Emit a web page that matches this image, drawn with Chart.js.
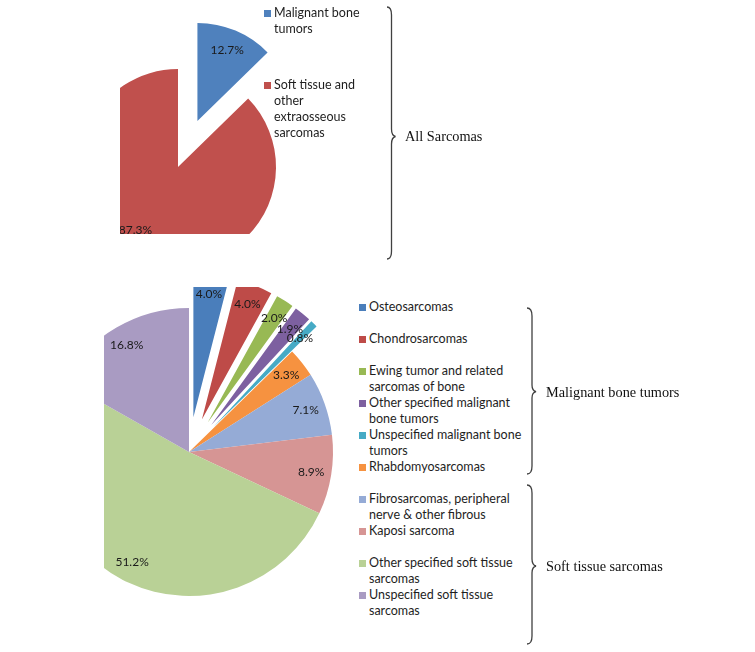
<!DOCTYPE html>
<html>
<head>
<meta charset="utf-8">
<title>Sarcomas</title>
<script src="https://cdn.jsdelivr.net/npm/chart.js@4.4.1/dist/chart.umd.min.js"></script>
<style>
    html, body { margin: 0; padding: 0; background: #fff; }
    #page { position: relative; width: 755px; height: 652px; overflow: hidden; }
    .clip { position: absolute; overflow: hidden; }
    .clip canvas { position: absolute; }
    .legend { position: absolute; font: 12.5px Lato, sans-serif; color: #1e1e1e; }
    .legend .item { position: relative; padding-left: 10px; line-height: 16px; white-space: nowrap; }
    .legend .box { position: absolute; left: 0; top: 4.5px; width: 7px; height: 7px; }
    .group { position: absolute; font: 14.3px "Liberation Serif", serif; line-height: 16px; color: #111; white-space: nowrap; }
    #braces { position: absolute; left: 0; top: 0; }
</style>
</head>
<body>
<div id="page">
    <div class="clip" style="left:120px; top:0; width:160px; height:234px;">
        <canvas id="allChart" width="300" height="300" style="left:-92px; top:17px;"></canvas>
    </div>
    <div id="allLegend" class="legend" style="left:264px; top:5px;"></div>

    <div class="clip" style="left:104px; top:287px; width:250px; height:365px;">
        <canvas id="subChart" width="340" height="340" style="left:-85px; top:-5px;"></canvas>
    </div>
    <div id="subLegend" class="legend" style="left:359px; top:299px;"></div>

    <svg id="braces" width="755" height="652">
        <g fill="none" stroke="#404040" stroke-width="1.3">
            <path d="M387 7 Q391.5 7 391.5 15 L391.5 129 Q391.5 135.5 395.5 136.5 Q391.5 137.5 391.5 144 L391.5 251 Q391.5 259 387 259"/>
            <path d="M527 308 Q532 308 532 316 L532 385 Q532 390.7 536 391.7 Q532 392.7 532 398 L532 466 Q532 474 527 474"/>
            <path d="M527 485 Q532 485 532 493 L532 559 Q532 565 536 566 Q532 567 532 573 L532 636 Q532 644 527 644"/>
        </g>
    </svg>
    <div id="g0" class="group" style="left:405px; top:128px;"></div>
    <div id="g1" class="group" style="left:546px; top:384px;"></div>
    <div id="g2" class="group" style="left:546px; top:558px;"></div>
</div>

<script>
    // All sarcomas
    const allLabels = [
        ['Malignant bone', 'tumors'],
        ['Soft tissue and', 'other', 'extraosseous', 'sarcomas']
    ];
    const allValues = [12.7, 87.3];
    const allColors = ['#4F81BD', '#C0504D'];

    // Breakdown by type
    const subLabels = [
        ['Osteosarcomas'],
        ['Chondrosarcomas'],
        ['Ewing tumor and related', 'sarcomas of bone'],
        ['Other specified malignant', 'bone tumors'],
        ['Unspecified malignant bone', 'tumors'],
        ['Rhabdomyosarcomas'],
        ['Fibrosarcomas, peripheral', 'nerve & other fibrous'],
        ['Kaposi sarcoma'],
        ['Other specified soft tissue', 'sarcomas'],
        ['Unspecified soft tissue', 'sarcomas']
    ];
    const subValues = [4.0, 4.0, 2.0, 1.9, 0.8, 3.3, 7.1, 8.9, 51.2, 16.8];
    const subColors = ['#4A7EBB', '#BE4B48', '#98B954', '#7D60A0', '#46AAC5',
                       '#F69240', '#95ABD6', '#D69594', '#B9D196', '#A99BC2'];

    const groupLabels = ['All Sarcomas', 'Malignant bone tumors', 'Soft tissue sarcomas'];

    // pull slices out from the centre (Excel style explode)
    const explodePlugin = {
        id: 'explode',
        afterDatasetUpdate: function (chart, args, opts) {
            const dist = opts.distance || [];
            args.meta.data.forEach(function (arc, i) {
                const d = dist[i] || 0;
                if (!d) return;
                const mid = (arc.startAngle + arc.endAngle) / 2;
                arc.x += Math.cos(mid) * d;
                arc.y += Math.sin(mid) * d;
            });
        }
    };

    // percentage labels inside the slices
    const sliceLabels = {
        id: 'sliceLabels',
        afterDatasetsDraw: function (chart, args, opts) {
            const ctx = chart.ctx;
            const meta = chart.getDatasetMeta(0);
            const values = chart.data.datasets[0].data;
            const turn = opts.turn || [];
            ctx.save();
            ctx.font = opts.font;
            ctx.fillStyle = opts.color;
            ctx.textAlign = 'center';
            ctx.textBaseline = 'middle';
            meta.data.forEach(function (arc, i) {
                const mid = (arc.startAngle + arc.endAngle) / 2 + (turn[i] || 0) * Math.PI / 180;
                const r = arc.outerRadius * opts.radius;
                ctx.fillText(values[i].toFixed(1) + '%', arc.x + Math.cos(mid) * r, arc.y + Math.sin(mid) * r);
            });
            ctx.restore();
        }
    };

    function makePie(id, labels, values, colors, radius, explode, labelOpts) {
        return new Chart(document.getElementById(id), {
            type: 'pie',
            data: {
                labels: labels,
                datasets: [{
                    data: values,
                    backgroundColor: colors,
                    borderWidth: 0,
                    radius: radius
                }]
            },
            options: {
                responsive: false,
                animation: false,
                events: [],
                layout: { padding: 0 },
                plugins: {
                    legend: { display: false },
                    tooltip: { enabled: false },
                    explode: { distance: explode },
                    sliceLabels: labelOpts
                }
            },
            plugins: [explodePlugin, sliceLabels]
        });
    }

    function htmlLegend(chart, el, itemHeight) {
        const items = chart.options.plugins.legend.labels.generateLabels(chart);
        items.forEach(function (item) {
            const row = document.createElement('div');
            row.className = 'item';
            row.style.height = itemHeight + 'px';
            const box = document.createElement('span');
            box.className = 'box';
            box.style.background = item.fillStyle;
            row.appendChild(box);
            [].concat(item.text).forEach(function (line, k) {
                if (k) row.appendChild(document.createElement('br'));
                row.appendChild(document.createTextNode(line));
            });
            el.appendChild(row);
        });
    }

    const labelFont = '12px Lato, sans-serif';

    const allChart = makePie('allChart', allLabels, allValues, allColors, 98, [50, 0],
        { font: labelFont, color: '#1a1a1a', radius: 0.78, turn: [0, 11] });
    const subChart = makePie('subChart', subLabels, subValues, subColors, 144,
        [35, 35, 35, 35, 35, 0, 0, 0, 0, 0],
        { font: labelFont, color: '#1a1a1a', radius: 0.86 });

    htmlLegend(allChart, document.getElementById('allLegend'), 72);
    htmlLegend(subChart, document.getElementById('subLegend'), 32);

    groupLabels.forEach(function (t, i) {
        document.getElementById('g' + i).textContent = t;
    });
</script>
</body>
</html>
